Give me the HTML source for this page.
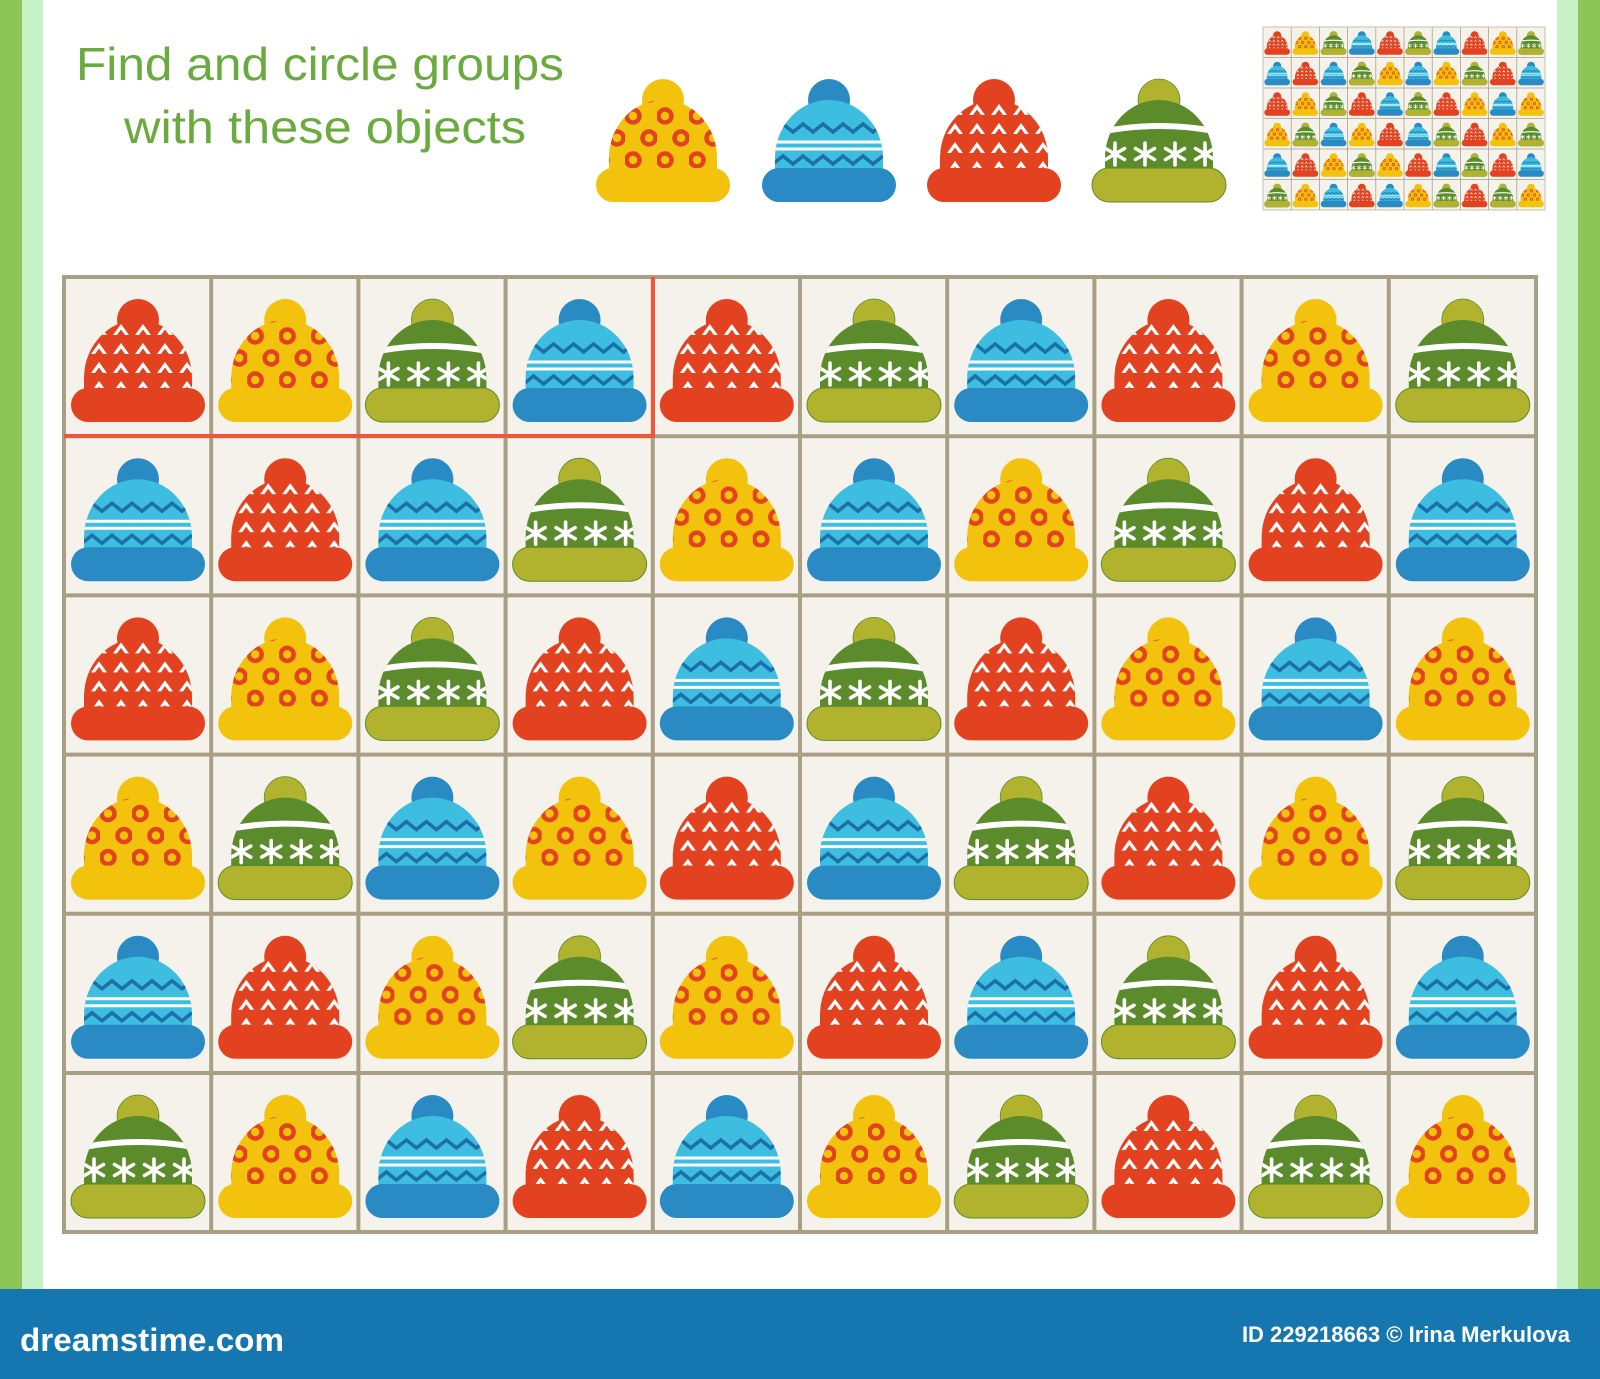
<!DOCTYPE html>
<html><head><meta charset="utf-8"><style>
html,body{margin:0;padding:0;background:#fff}
svg{display:block}
</style></head><body>
<svg width="1600" height="1379" viewBox="0 0 1600 1379" xmlns="http://www.w3.org/2000/svg">
<defs>
  <clipPath id="dome"><path d="M20,128 L20,98 A54,58 0 0 1 128,98 L128,128 Z"/></clipPath>
  <pattern id="chev" x="2" y="2" width="22" height="19" patternUnits="userSpaceOnUse">
    <path d="M3,15 L11,4 L19,15 L15,15 L11,9.5 L7,15 Z" fill="#fff"/>
  </pattern>
  <pattern id="rings" x="4" y="2" width="32" height="44" patternUnits="userSpaceOnUse">
    <circle cx="8" cy="10" r="6.5" fill="none" stroke="#e2421f" stroke-width="4.5"/>
    <circle cx="24" cy="32" r="6.5" fill="none" stroke="#e2421f" stroke-width="4.5"/>
  </pattern>
  <g id="star">
    <path d="M0,-11 L0,11 M-9.5,-5.5 L9.5,5.5 M-9.5,5.5 L9.5,-5.5" stroke="#fff" stroke-width="3.6" stroke-linecap="round"/>
  </g>
  <symbol id="R" viewBox="0 0 147 159" width="147" height="159">
    <circle cx="74" cy="40" r="21" fill="#e2421f"/>
    <path d="M20,128 L20,98 A54,58 0 0 1 128,98 L128,128 Z" fill="#e2421f"/>
    <rect x="20" y="30" width="108" height="100" fill="url(#chev)" clip-path="url(#dome)"/>
    <rect x="7" y="108" width="134" height="34" rx="17" fill="#e2421f"/>
  </symbol>
  <symbol id="Y" viewBox="0 0 147 159" width="147" height="159">
    <circle cx="74" cy="40" r="21" fill="#f2c20c"/>
    <path d="M20,128 L20,98 A54,58 0 0 1 128,98 L128,128 Z" fill="#f2c20c"/>
    <rect x="20" y="30" width="108" height="100" fill="url(#rings)" clip-path="url(#dome)"/>
    <rect x="7" y="108" width="134" height="34" rx="17" fill="#f2c20c"/>
  </symbol>
  <symbol id="G" viewBox="0 0 147 159" width="147" height="159">
    <circle cx="74" cy="40" r="21" fill="#b1b32e" stroke="#5b8b2a" stroke-width="0.8"/>
    <path d="M20,128 L20,98 A54,58 0 0 1 128,98 L128,128 Z" fill="#5b8b2a"/>
    <g clip-path="url(#dome)">
      <path d="M15,72 Q74,60 135,72" stroke="#fff" stroke-width="6" fill="none"/>
      <use href="#star" x="30" y="94"/><use href="#star" x="60" y="94"/><use href="#star" x="90" y="94"/><use href="#star" x="120" y="94"/>
    </g>
    <rect x="7" y="108" width="134" height="34" rx="17" fill="#b1b32e" stroke="#5b8b2a" stroke-width="1"/>
  </symbol>
  <symbol id="B" viewBox="0 0 147 159" width="147" height="159">
    <circle cx="74" cy="40" r="21" fill="#2a8ac4"/>
    <path d="M20,128 L20,98 A54,58 0 0 1 128,98 L128,128 Z" fill="#3dbde0"/>
    <g clip-path="url(#dome)" fill="none">
      <path d="M18,72 l10,-8 10,8 10,-8 10,8 10,-8 10,8 10,-8 10,8 10,-8 10,8 10,-8" stroke="#1e6fa8" stroke-width="3.5"/>
      <path d="M16,82 H132 M16,89 H132" stroke="#fff" stroke-width="3"/>
      <path d="M18,104 l10,-8 10,8 10,-8 10,8 10,-8 10,8 10,-8 10,8 10,-8 10,8 10,-8" stroke="#1e6fa8" stroke-width="3.5"/>
    </g>
    <rect x="7" y="108" width="134" height="34" rx="17" fill="#2a8ac4"/>
  </symbol>
  <g id="grid">
    <rect x="64" y="277" width="1472" height="955" fill="#f4f2ea"/>
    <g>
      <use href="#R" x="64" y="280"/><use href="#Y" x="211.2" y="280"/><use href="#G" x="358.4" y="280"/><use href="#B" x="505.6" y="280"/><use href="#R" x="652.8" y="280"/><use href="#G" x="800" y="280"/><use href="#B" x="947.2" y="280"/><use href="#R" x="1094.4" y="280"/><use href="#Y" x="1241.6" y="280"/><use href="#G" x="1388.8" y="280"/>
      <use href="#B" x="64" y="439.2"/><use href="#R" x="211.2" y="439.2"/><use href="#B" x="358.4" y="439.2"/><use href="#G" x="505.6" y="439.2"/><use href="#Y" x="652.8" y="439.2"/><use href="#B" x="800" y="439.2"/><use href="#Y" x="947.2" y="439.2"/><use href="#G" x="1094.4" y="439.2"/><use href="#R" x="1241.6" y="439.2"/><use href="#B" x="1388.8" y="439.2"/>
      <use href="#R" x="64" y="598.4"/><use href="#Y" x="211.2" y="598.4"/><use href="#G" x="358.4" y="598.4"/><use href="#R" x="505.6" y="598.4"/><use href="#B" x="652.8" y="598.4"/><use href="#G" x="800" y="598.4"/><use href="#R" x="947.2" y="598.4"/><use href="#Y" x="1094.4" y="598.4"/><use href="#B" x="1241.6" y="598.4"/><use href="#Y" x="1388.8" y="598.4"/>
      <use href="#Y" x="64" y="757.6"/><use href="#G" x="211.2" y="757.6"/><use href="#B" x="358.4" y="757.6"/><use href="#Y" x="505.6" y="757.6"/><use href="#R" x="652.8" y="757.6"/><use href="#B" x="800" y="757.6"/><use href="#G" x="947.2" y="757.6"/><use href="#R" x="1094.4" y="757.6"/><use href="#Y" x="1241.6" y="757.6"/><use href="#G" x="1388.8" y="757.6"/>
      <use href="#B" x="64" y="916.8"/><use href="#R" x="211.2" y="916.8"/><use href="#Y" x="358.4" y="916.8"/><use href="#G" x="505.6" y="916.8"/><use href="#Y" x="652.8" y="916.8"/><use href="#R" x="800" y="916.8"/><use href="#B" x="947.2" y="916.8"/><use href="#G" x="1094.4" y="916.8"/><use href="#R" x="1241.6" y="916.8"/><use href="#B" x="1388.8" y="916.8"/>
      <use href="#G" x="64" y="1076"/><use href="#Y" x="211.2" y="1076"/><use href="#B" x="358.4" y="1076"/><use href="#R" x="505.6" y="1076"/><use href="#B" x="652.8" y="1076"/><use href="#Y" x="800" y="1076"/><use href="#G" x="947.2" y="1076"/><use href="#R" x="1094.4" y="1076"/><use href="#G" x="1241.6" y="1076"/><use href="#Y" x="1388.8" y="1076"/>
    </g>
    <g stroke="#a89f85" stroke-width="4" fill="none">
      <rect x="64" y="277" width="1472" height="955"/>
      <path d="M211.2,277V1232 M358.4,277V1232 M505.6,277V1232 M652.8,277V1232 M800,277V1232 M947.2,277V1232 M1094.4,277V1232 M1241.6,277V1232 M1388.8,277V1232"/>
      <path d="M64,436.2H1536 M64,595.4H1536 M64,754.6H1536 M64,913.8H1536 M64,1073H1536"/>
    </g>
  </g>
</defs>

<rect x="0" y="0" width="22" height="1289" fill="#8cc657"/>
<rect x="22" y="0" width="21" height="1289" fill="#c6f2c6"/>
<rect x="1557" y="0" width="21" height="1289" fill="#c6f2c6"/>
<rect x="1578" y="0" width="22" height="1289" fill="#8cc657"/>

<text x="320" y="80" text-anchor="middle" font-family="Liberation Sans, sans-serif" font-size="46" fill="#6aaa3e" textLength="488" lengthAdjust="spacingAndGlyphs">Find and circle groups</text>
<text x="325" y="143" text-anchor="middle" font-family="Liberation Sans, sans-serif" font-size="46" fill="#6aaa3e" textLength="402" lengthAdjust="spacingAndGlyphs">with these objects</text>

<use href="#Y" x="589" y="60"/>
<use href="#B" x="755" y="60"/>
<use href="#R" x="920" y="60"/>
<use href="#G" x="1085" y="60"/>

<use href="#grid"/>
<path d="M64,436 H653 V277" stroke="#f0563a" stroke-width="4" fill="none"/>

<g transform="translate(1263,27) scale(0.1916) translate(-64,-277)">
  <use href="#grid"/>
</g>
<rect x="1263" y="27" width="282" height="183" fill="none" stroke="#c8c0a8" stroke-width="1"/>

<rect x="0" y="1289" width="1600" height="90" fill="#1677b0"/>
<text x="20" y="1351" font-family="Liberation Sans, sans-serif" font-size="32" font-weight="bold" fill="#fff" textLength="264" lengthAdjust="spacingAndGlyphs">dreamstime.com</text>
<text x="1570" y="1342" text-anchor="end" font-family="Liberation Sans, sans-serif" font-size="22" font-weight="bold" fill="#fff">ID 229218663 © Irina Merkulova</text>
</svg>
</body></html>
